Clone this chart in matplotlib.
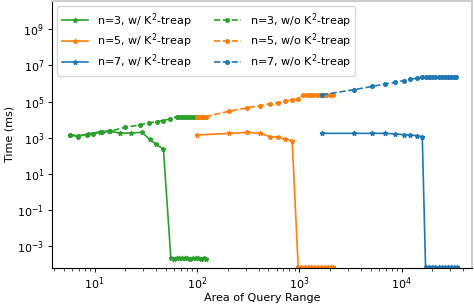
import matplotlib
matplotlib.use("Agg")
import matplotlib.pyplot as plt
import matplotlib.ticker as ticker
import numpy as np

plt.rcParams["font.size"] = 8

# n=3
x3_w = [5.7, 6.8, 8.6, 11.2, 13.7, 17.6, 22.5, 28.9, 34.5, 40.0, 47.0, 55.6, 59.5, 63.6, 67.5,
        71.5, 76.0, 80.5, 85.5, 91.0, 97.0, 103.0, 110.0, 117.0, 123.0]
y3_w = [1470, 1140, 1650, 2050, 2350, 1800, 1800, 1970, 800, 420, 236,
        2.2e-4, 2.0e-4, 2.2e-4, 2.1e-4, 2.3e-4, 2.1e-4, 2.2e-4, 2.0e-4, 2.2e-4,
        2.1e-4, 2.1e-4, 2.0e-4, 2.1e-4, 1.9e-4]
x3_wo = [5.7, 6.8, 8.35, 9.6, 11.7, 14.0, 19.7, 27.6, 33.8, 40.5, 46.4, 54.4, 63.6, 67.5,
         71.5, 76.0, 80.5, 85.5, 91.0, 97.0, 103.0, 110.0, 117.0, 123.0]
y3_wo = [1470, 1300, 1470, 1670, 1970, 2240, 3730, 5080, 6560, 7740, 8800, 10900,
         14700, 14700, 14700, 14700, 14700, 14700, 14700, 14700, 14700, 14700, 14700, 14700]

# n=5
x5_w = [101, 206, 309, 415, 520, 623, 729, 853, 977, 1050, 1130, 1220, 1310, 1410,
        1520, 1640, 1770, 1900, 2050, 2150]
y5_w = [1413, 1730, 1970, 1730, 1137, 1040, 850, 681,
        7.2e-5, 7.0e-5, 6.8e-5, 7.0e-5, 6.8e-5, 6.9e-5, 6.8e-5, 7.0e-5, 6.8e-5, 6.9e-5, 6.8e-5, 6.8e-5]
x5_wo = [100, 107, 114, 122, 206, 309, 415, 520, 623, 729, 853, 977, 1094, 1180, 1270,
         1370, 1480, 1590, 1710, 1840, 1990, 2150]
y5_wo = [14700, 14700, 14700, 14700, 2.89e4, 4.47e4, 6.0e4, 7.45e4, 8.8e4, 1.04e5, 1.24e5,
         1.38e5, 2.35e5, 2.45e5, 2.45e5, 2.45e5, 2.45e5, 2.45e5, 2.45e5, 2.45e5, 2.45e5, 2.45e5]

# n=7
x7_w = [1667, 3404, 5117, 6966, 8735, 10470, 12170, 14030, 15960, 17180, 18500, 19900,
        21400, 23000, 24700, 26600, 28600, 30700, 32600, 34600]
y7_w = [1734, 1734, 1734, 1734, 1605, 1468, 1413, 1292, 1137,
        6.8e-5, 6.8e-5, 6.9e-5, 6.8e-5, 6.8e-5, 6.9e-5, 6.8e-5, 6.8e-5, 6.9e-5, 6.8e-5, 6.8e-5]
x7_wo = [1667, 3404, 5117, 6966, 8735, 10470, 12170, 14030, 15960, 17200, 18500, 19900,
         21400, 23000, 24700, 26600, 28600, 30700, 32600, 34000]
y7_wo = [2.36e5, 4.5e5, 6.8e5, 9.4e5, 1.18e6, 1.43e6, 1.71e6, 1.94e6, 2.24e6,
         2.3e6, 2.33e6, 2.35e6, 2.36e6, 2.36e6, 2.36e6, 2.36e6, 2.36e6, 2.36e6, 2.36e6, 2.36e6]

green, orange, blue = "#2ca02c", "#ff7f0e", "#1f77b4"

fig = plt.figure(figsize=(4.74, 3.05), dpi=100)
ax = fig.add_axes([0.109, 0.122, 0.887, 0.875])

kw_w = dict(marker="*", markersize=3.5, lw=1.2)
kw_wo = dict(marker="o", markersize=2.6, lw=1.2, ls="--")
ax.plot(x3_w, y3_w, color=green, label=r"n=3, w/ K$^2$-treap", **kw_w)
ax.plot(x5_w, y5_w, color=orange, label=r"n=5, w/ K$^2$-treap", **kw_w)
ax.plot(x7_w, y7_w, color=blue, label=r"n=7, w/ K$^2$-treap", **kw_w)
ax.plot(x3_wo, y3_wo, color=green, label=r"n=3, w/o K$^2$-treap", **kw_wo)
ax.plot(x5_wo, y5_wo, color=orange, label=r"n=5, w/o K$^2$-treap", **kw_wo)
ax.plot(x7_wo, y7_wo, color=blue, label=r"n=7, w/o K$^2$-treap", **kw_wo)

ax.set_xscale("log")
ax.set_yscale("log")
ax.set_xlim(3.8, 49000)
ax.set_ylim(6.3e-5, 3.7e10)
ax.yaxis.set_major_locator(ticker.FixedLocator([1e-3, 1e-1, 1e1, 1e3, 1e5, 1e7, 1e9]))
ax.yaxis.set_minor_locator(ticker.NullLocator())
ax.tick_params(which="major", length=3, width=0.7, pad=2.5)
ax.tick_params(which="minor", length=1.8, width=0.5)

for s in ["left", "bottom"]:
    ax.spines[s].set_linewidth(0.8)
ax.spines["top"].set_color("#cccccc")
ax.spines["right"].set_color("#cccccc")
ax.spines["top"].set_linewidth(1.5)
ax.spines["right"].set_linewidth(1.5)

ax.set_xlabel("Area of Query Range", labelpad=1)
ax.set_ylabel("Time (ms)", labelpad=2)
ax.legend(loc="upper left", ncol=2, labelspacing=0.2, handlelength=2.4,
          columnspacing=2.0, borderaxespad=0.5)

fig.savefig("out.png", dpi=100)
